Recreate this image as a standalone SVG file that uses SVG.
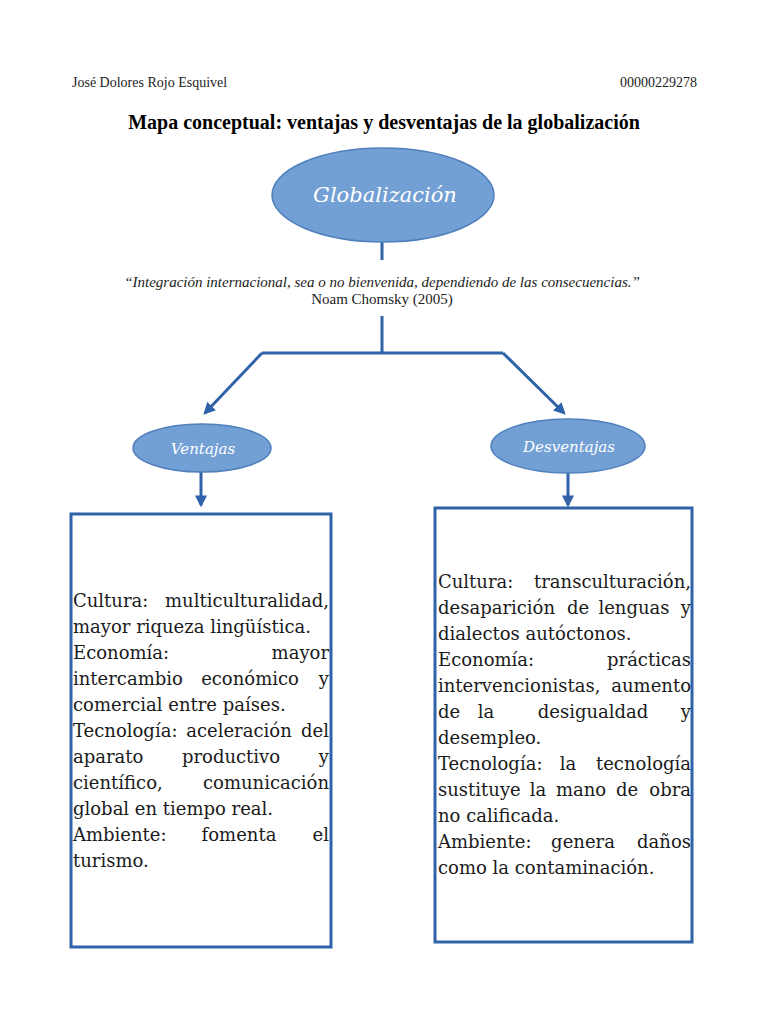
<svg xmlns="http://www.w3.org/2000/svg" width="768" height="1024" viewBox="0 0 768 1024">
<defs>
<style>
.hdr{font-family:"Liberation Serif",serif;font-size:14px;fill:#222}
.title{font-family:"Liberation Serif",serif;font-size:20px;font-weight:bold;fill:#000}
.quote{font-family:"Liberation Serif",serif;font-size:15px;fill:#222}
.ell{fill:#729fd4;stroke:#4f7fbd;stroke-width:1.5}
.elt{font-family:"DejaVu Serif",serif;font-style:italic;fill:#fff;text-anchor:middle}
.box{fill:#fff;stroke:#2f62a8;stroke-width:3}
.bt{font-family:"DejaVu Serif",serif;font-size:18px;fill:#1a1a1a}
.e{text-anchor:end}
.m{text-anchor:middle}
.con{stroke:#2f62a8;stroke-width:3;fill:none}
</style>
<marker id="ah" viewBox="0 0 10 10" refX="8" refY="5" markerWidth="4" markerHeight="4" orient="auto" markerUnits="strokeWidth">
<path d="M0,0 L10,5 L0,10 z" fill="#2f62a8"/>
</marker>
</defs>
<rect width="768" height="1024" fill="#fff"/>
<g id="header">
<text class="hdr" x="72" y="87">José Dolores Rojo Esquivel</text>
<text class="hdr" x="697" y="87" text-anchor="end">00000229278</text>
<text class="title" x="384" y="129" text-anchor="middle">Mapa conceptual: ventajas y desventajas de la globalización</text>
</g>
<g id="connectors">
<line class="con" x1="382" y1="242" x2="382" y2="260"/>
<line class="con" x1="382" y1="316" x2="382" y2="353"/>
<polyline class="con" points="262,353 503,353"/>
<line class="con" x1="262" y1="353" x2="205" y2="413" marker-end="url(#ah)"/>
<line class="con" x1="503" y1="353" x2="564" y2="413" marker-end="url(#ah)"/>
<line class="con" x1="201" y1="472" x2="201" y2="505" marker-end="url(#ah)"/>
<line class="con" x1="568" y1="473" x2="568" y2="505" marker-end="url(#ah)"/>
</g>
<g id="globalizacion">
<ellipse class="ell" cx="383" cy="195" rx="111" ry="47"/>
<text class="elt" x="385" y="202" font-size="21">Globalización</text>
</g>
<g id="quote">
<text class="quote" x="382" y="287" text-anchor="middle" font-style="italic">“Integración internacional, sea o no bienvenida, dependiendo de las consecuencias.”</text>
<text class="quote" x="382" y="304" text-anchor="middle">Noam Chomsky (2005)</text>
</g>
<g id="ventajas">
<ellipse class="ell" cx="202" cy="448" rx="69" ry="24"/>
<text class="elt" x="203" y="454" font-size="15">Ventajas</text>
</g>
<g id="desventajas">
<ellipse class="ell" cx="568" cy="446" rx="77" ry="27"/>
<text class="elt" x="569" y="452" font-size="15">Desventajas</text>
</g>
<g id="ventajas-box">
<rect class="box" x="71" y="514" width="260" height="433"/>
<text class="bt" x="73" y="607">Cultura:</text><text class="bt e" x="329" y="607">multiculturalidad,</text>
<text class="bt" x="73" y="633">mayor riqueza lingüística.</text>
<text class="bt" x="73" y="659">Economía:</text><text class="bt e" x="329" y="659">mayor</text>
<text class="bt" x="73" y="685">intercambio</text><text class="bt m" x="250" y="685">económico</text><text class="bt e" x="329" y="685">y</text>
<text class="bt" x="73" y="711">comercial entre países.</text>
<text class="bt" x="73" y="737">Tecnología:</text><text class="bt m" x="239" y="737">aceleración</text><text class="bt e" x="329" y="737">del</text>
<text class="bt" x="73" y="763">aparato</text><text class="bt m" x="231" y="763">productivo</text><text class="bt e" x="329" y="763">y</text>
<text class="bt" x="73" y="789">científico,</text><text class="bt e" x="329" y="789">comunicación</text>
<text class="bt" x="73" y="815">global en tiempo real.</text>
<text class="bt" x="73" y="841">Ambiente:</text><text class="bt m" x="239" y="841">fomenta</text><text class="bt e" x="329" y="841">el</text>
<text class="bt" x="73" y="867">turismo.</text>
</g>
<g id="desventajas-box">
<rect class="box" x="435" y="508" width="257" height="434"/>
<text class="bt" x="438" y="588">Cultura:</text><text class="bt e" x="691" y="588">transculturación,</text>
<text class="bt" x="438" y="614">desaparición</text><text class="bt m" x="578" y="614">de</text><text class="bt m" x="634" y="614">lenguas</text><text class="bt e" x="691" y="614">y</text>
<text class="bt" x="438" y="640">dialectos autóctonos.</text>
<text class="bt" x="438" y="666">Economía:</text><text class="bt e" x="691" y="666">prácticas</text>
<text class="bt" x="438" y="692">intervencionistas,</text><text class="bt e" x="691" y="692">aumento</text>
<text class="bt" x="438" y="718">de</text><text class="bt m" x="486" y="718">la</text><text class="bt m" x="593" y="718">desigualdad</text><text class="bt e" x="691" y="718">y</text>
<text class="bt" x="438" y="744">desempleo.</text>
<text class="bt" x="438" y="770">Tecnología:</text><text class="bt m" x="568" y="770">la</text><text class="bt e" x="691" y="770">tecnología</text>
<text class="bt" x="438" y="796">sustituye</text><text class="bt m" x="538" y="796">la</text><text class="bt m" x="581" y="796">mano</text><text class="bt m" x="627" y="796">de</text><text class="bt e" x="691" y="796">obra</text>
<text class="bt" x="438" y="822">no calificada.</text>
<text class="bt" x="438" y="848">Ambiente:</text><text class="bt m" x="583" y="848">genera</text><text class="bt e" x="691" y="848">daños</text>
<text class="bt" x="438" y="874">como la contaminación.</text>
</g>
</svg>
